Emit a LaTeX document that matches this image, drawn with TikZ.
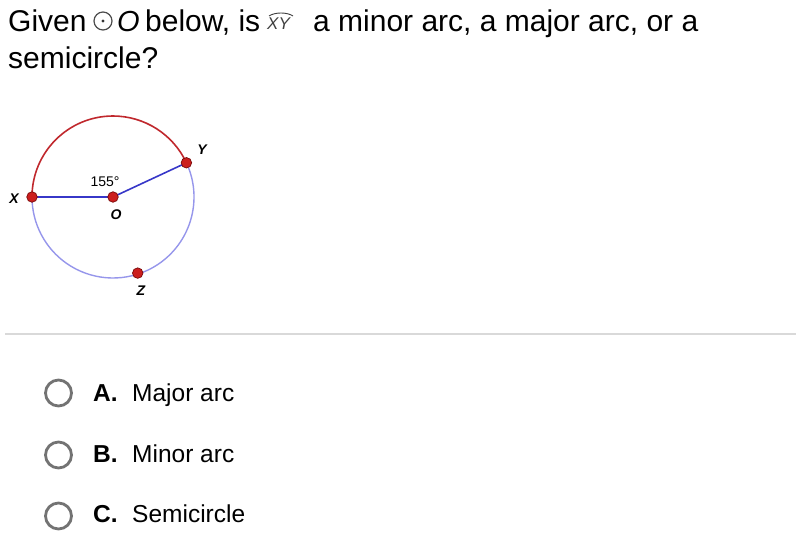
\documentclass[tikz,border=0pt]{standalone}
\usepackage{fontspec}
\setmainfont{Liberation Sans}
\usetikzlibrary{calc}
\definecolor{ptred}{RGB}{204,30,30}
\definecolor{ptedge}{RGB}{120,10,10}
\definecolor{arcred}{RGB}{192,40,45}
\definecolor{arcblue}{RGB}{150,150,235}
\definecolor{radblue}{RGB}{55,55,200}
\begin{document}
\begin{tikzpicture}[x=1pt,y=1pt,
  title/.style={anchor=base west,inner sep=0pt,font=\fontsize{30}{34}\selectfont},
  opt/.style={anchor=base west,inner sep=0pt,font=\fontsize{24.5}{28}\selectfont},
  radio/.style={draw=black!55,line width=2.8pt,circle,minimum size=26pt,inner sep=0pt},
  pt/.style={circle,fill=ptred,draw=ptedge,line width=0.7pt,minimum size=10.5pt,inner sep=0pt},
  lbl/.style={inner sep=0pt,font=\fontsize{14}{15}\selectfont\bfseries\itshape},
  majorarc/.style={draw=arcred,line width=1.6pt},
  minorarc/.style={draw=arcblue,line width=1.4pt},
  radiusline/.style={draw=radblue,line width=1.6pt}]
\useasboundingbox (0,0) rectangle (796,-536);
% title
\node[title] (t1) at (8,-31) {Given};
\node[draw=black!70,circle,line width=1.2pt,minimum size=18pt,inner sep=0pt] (cs) at (103,-21) {};
\fill[black!80] (cs.center) circle (1.7pt);
\node[title,font=\fontsize{29}{34}\selectfont\itshape] (t2) at (117,-31) {O};
\node[title] (t3) at (145,-31) {below, is};
\node[anchor=base west,inner sep=0pt,font=\fontsize{17}{19}\selectfont\itshape,text=black!75] (xy) at (267,-29) {XY};
\draw[black!75,line width=0.9pt] (269,-16) .. controls (275,-12) and (287,-12) .. (293,-16);
\node[title] (t4) at (313,-31) {a minor arc, a major arc, or a};
\node[title] (t5) at (8,-68) {semicircle?};
% diagram
\coordinate (O) at (113,-197);
\draw[minorarc] (O) ++(25:81) arc[start angle=25,end angle=-180,radius=81];
\draw[majorarc] (O) ++(180:81) arc[start angle=180,end angle=25,radius=81];
\coordinate (X) at ($(O)+(180:81)$);
\coordinate (Y) at ($(O)+(25:81)$);
\coordinate (Z) at ($(O)+(-72:80)$);
\draw[radiusline] (X) -- (O) -- (Y);
\node[pt] (ptX) at (X) {};
\node[pt] (ptY) at (Y) {};
\node[pt] (ptZ) at (Z) {};
\node[pt] (ptO) at (O) {};
\node[lbl] (lX) at (14,-199) {X};
\node[lbl] (lY) at (202,-150) {Y};
\node[lbl] (lO) at (116,-215) {O};
\node[lbl] (lZ) at (141,-291) {Z};
\node[inner sep=0pt,font=\fontsize{14}{15}\selectfont] (ang) at (105,-182) {155°};
% separator
\draw[black!15,line width=1.2pt] (5,-334) -- (796,-334);
% options
\node[radio] (rA) at (58.5,-393) {};
\node[radio] (rB) at (58.5,-455) {};
\node[radio] (rC) at (58.5,-516) {};
\node[opt,font=\fontsize{24.5}{28}\selectfont\bfseries] (kA) at (93,-401) {A.};
\node[opt,font=\fontsize{24.5}{28}\selectfont\bfseries] (kB) at (93,-462) {B.};
\node[opt,font=\fontsize{24.5}{28}\selectfont\bfseries] (kC) at (93,-522) {C.};
\node[opt] (oA) at (132,-401) {Major arc};
\node[opt] (oB) at (132,-462) {Minor arc};
\node[opt] (oC) at (132,-522) {Semicircle};
\end{tikzpicture}
\end{document}
